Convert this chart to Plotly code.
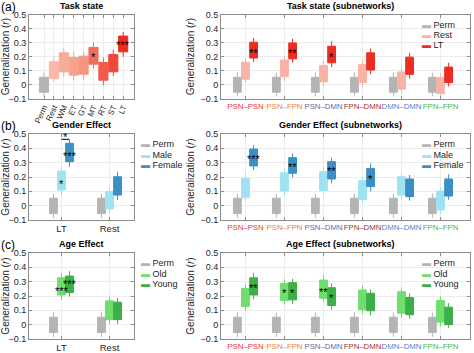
import plotly.graph_objects as go

# ---------------- data ----------------
Y_TICKS = [-0.1, 0, 0.1, 0.2, 0.3, 0.4, 0.5]

# (a) task states
task_states = ["Perm", "Rest", "WM", "ET", "GT", "MT", "RT", "ST", "LT"]
task_q1 = [-0.055, 0.043, 0.091, 0.067, 0.074, 0.146, 0.031, 0.091, 0.234]
task_med = [0.000, 0.100, 0.160, 0.130, 0.140, 0.215, 0.095, 0.153, 0.299]
task_q3 = [0.052, 0.163, 0.227, 0.194, 0.203, 0.266, 0.158, 0.215, 0.347]
task_lo = [-0.085, 0.020, 0.055, 0.031, 0.036, 0.115, -0.005, 0.060, 0.199]
task_hi = [0.085, 0.200, 0.260, 0.234, 0.234, 0.300, 0.194, 0.251, 0.376]
task_sig = ["", "", "", "", "", "*", "", "", "***"]

subnets = ["PSN–PSN", "PSN–FPN", "PSN–DMN", "FPN–DMN", "DMN–DMN", "FPN–FPN"]
group_cats = ["LT", "Rest"]

# permutation null (same in every panel)
perm_sub_q1 = [-0.055, -0.055, -0.055, -0.055, -0.055, -0.055]
perm_sub_med = [0.000, 0.000, 0.000, 0.000, 0.000, 0.000]
perm_sub_q3 = [0.052, 0.052, 0.052, 0.052, 0.052, 0.052]
perm_sub_lo = [-0.085, -0.085, -0.085, -0.085, -0.085, -0.085]
perm_sub_hi = [0.085, 0.085, 0.085, 0.085, 0.085, 0.085]
perm_grp_q1 = [-0.055, -0.055]
perm_grp_med = [0.000, 0.000]
perm_grp_q3 = [0.052, 0.052]
perm_grp_lo = [-0.085, -0.085]
perm_grp_hi = [0.085, 0.085]

# (a) subnetworks
rest_sub_q1 = [0.038, 0.057, 0.019, 0.014, -0.033, -0.064]
rest_sub_med = [0.099, 0.116, 0.078, 0.079, 0.028, -0.007]
rest_sub_q3 = [0.160, 0.175, 0.137, 0.144, 0.090, 0.050]
rest_sub_lo = [0.012, 0.026, -0.013, -0.015, -0.064, -0.090]
rest_sub_hi = [0.190, 0.208, 0.168, 0.175, 0.120, 0.080]
lt_sub_q1 = [0.190, 0.184, 0.156, 0.104, 0.073, 0.014]
lt_sub_med = [0.243, 0.243, 0.215, 0.165, 0.134, 0.070]
lt_sub_q3 = [0.303, 0.298, 0.274, 0.227, 0.196, 0.125]
lt_sub_lo = [0.160, 0.156, 0.125, 0.073, 0.043, -0.014]
lt_sub_hi = [0.333, 0.328, 0.310, 0.258, 0.227, 0.156]
lt_sub_sig = ["**", "**", "*", "", "", ""]

# (b) gender
male_q1 = [0.109, -0.023]
male_med = [0.172, 0.038]
male_q3 = [0.242, 0.098]
male_lo = [0.074, -0.053]
male_hi = [0.272, 0.128]
male_sig = ["*", ""]
female_q1 = [0.307, 0.074]
female_med = [0.365, 0.138]
female_q3 = [0.435, 0.202]
female_lo = [0.272, 0.040]
female_hi = [0.458, 0.237]
female_sig = ["***", ""]
gender_bracket_label = "*"
gender_bracket_y = 0.463

male_sub_q1 = [0.058, 0.102, 0.105, 0.044, 0.074, -0.030]
male_sub_med = [0.124, 0.166, 0.171, 0.109, 0.138, 0.036]
male_sub_q3 = [0.190, 0.230, 0.237, 0.174, 0.202, 0.102]
male_sub_lo = [0.028, 0.074, 0.074, 0.016, 0.044, -0.058]
male_sub_hi = [0.226, 0.260, 0.270, 0.202, 0.230, 0.130]
female_sub_q1 = [0.277, 0.226, 0.186, 0.133, 0.063, 0.067]
female_sub_med = [0.342, 0.284, 0.256, 0.202, 0.125, 0.127]
female_sub_q3 = [0.395, 0.335, 0.307, 0.260, 0.186, 0.186]
female_sub_lo = [0.249, 0.198, 0.156, 0.098, 0.035, 0.040]
female_sub_hi = [0.423, 0.365, 0.335, 0.295, 0.214, 0.219]
female_sub_sig = ["***", "**", "**", "*", "", ""]

# (c) age
old_q1 = [0.207, 0.035]
old_med = [0.253, 0.100]
old_q3 = [0.327, 0.166]
old_lo = [0.173, 0.005]
old_hi = [0.357, 0.196]
old_sig = ["***", ""]
young_q1 = [0.224, 0.035]
young_med = [0.300, 0.096]
young_q3 = [0.339, 0.157]
young_lo = [0.196, 0.005]
young_hi = [0.373, 0.187]
young_sig = ["***", ""]

old_sub_q1 = [0.127, 0.168, 0.184, 0.104, 0.080, 0.018]
old_sub_med = [0.190, 0.235, 0.247, 0.173, 0.155, 0.093]
old_sub_q3 = [0.253, 0.288, 0.311, 0.242, 0.230, 0.168]
old_sub_lo = [0.100, 0.140, 0.157, 0.074, 0.046, -0.012]
old_sub_hi = [0.281, 0.316, 0.346, 0.272, 0.258, 0.196]
old_sub_sig = ["", "*", "**", "", "", ""]
young_sub_q1 = [0.207, 0.173, 0.134, 0.097, 0.069, 0.000]
young_sub_med = [0.272, 0.235, 0.207, 0.158, 0.129, 0.061]
young_sub_q3 = [0.327, 0.293, 0.258, 0.219, 0.189, 0.122]
young_sub_lo = [0.177, 0.143, 0.104, 0.065, 0.041, -0.023]
young_sub_hi = [0.362, 0.320, 0.288, 0.247, 0.219, 0.150]
young_sub_sig = ["**", "*", "*", "", "", ""]

# ---------------- styles ----------------
task_colors = ["#b4b4b4", "#fbb8a8", "#f9ab9a", "#f7a08e", "#f69583",
               "#f26c5c", "#f15a4c", "#ef4739", "#ee2c22"]
C_PERM = "#b4b4b4"
C_REST = "#f9b3a6"
C_LT = "#ee2c22"
C_MALE = "#9ee3f1"
C_FEMALE = "#3b8fc5"
C_OLD = "#6fde6f"
C_YOUNG = "#3daf48"
subnet_colors = ["#e8383d", "#e8843a", "#7a5ca6", "#a33430", "#4f86c4", "#4cb84c"]

W, H = 474, 353
FONT = "Liberation Sans, Arial, Helvetica, sans-serif"
AXC = "#8c8c8c"
GRID = "#ececec"
TXT = "#262626"

COLS = [(29, 134), (221, 470)]
ROWS = [(14.7, 98.5), (134, 220), (253, 339)]

fig = go.Figure()


def ax_id(r, c):
    return 2 * r + c + 1


def add_boxes(r, c, xs, q1, med, q3, lo, hi, color, width, sig):
    n = ax_id(r, c)
    xa = "x" if n == 1 else f"x{n}"
    ya = "y" if n == 1 else f"y{n}"
    fig.add_trace(go.Box(
        x=xs, q1=q1, median=med, q3=q3, lowerfence=lo, upperfence=hi,
        xaxis=xa, yaxis=ya, fillcolor=color, width=width,
        line=dict(color=color, width=1), whiskerwidth=0,
        boxpoints=False, showlegend=False, hoverinfo="skip"))
    for x, y, s in zip(xs, med, sig):
        if s:
            fig.add_annotation(x=x, y=y, xref=xa, yref=ya, text=s,
                               showarrow=False, yshift=-2.5,
                               font=dict(family=FONT, size=11, color="black"))


# (a) left: one box per task state, each its own colour
for i, st in enumerate(task_states):
    add_boxes(0, 0, [i], [task_q1[i]], [task_med[i]], [task_q3[i]],
              [task_lo[i]], [task_hi[i]], task_colors[i], 0.92, [task_sig[i]])

# grouped panels
SUB_STEP, SUB_W = 0.208, 0.2
GRP_STEP, GRP_W = 0.167, 0.163
sub_idx = list(range(len(subnets)))
grp_idx = list(range(len(group_cats)))


def grouped(r, c, idx, step, series):
    for k, s in enumerate(series):
        off = (k - (len(series) - 1) / 2) * step
        xs = [i + off for i in idx]
        add_boxes(r, c, xs, *s)


no_sig6 = ["", "", "", "", "", ""]
no_sig2 = ["", ""]

grouped(0, 1, sub_idx, SUB_STEP, [
    (perm_sub_q1, perm_sub_med, perm_sub_q3, perm_sub_lo, perm_sub_hi, C_PERM, SUB_W, no_sig6),
    (rest_sub_q1, rest_sub_med, rest_sub_q3, rest_sub_lo, rest_sub_hi, C_REST, SUB_W, no_sig6),
    (lt_sub_q1, lt_sub_med, lt_sub_q3, lt_sub_lo, lt_sub_hi, C_LT, SUB_W, lt_sub_sig),
])
grouped(1, 0, grp_idx, GRP_STEP, [
    (perm_grp_q1, perm_grp_med, perm_grp_q3, perm_grp_lo, perm_grp_hi, C_PERM, GRP_W, no_sig2),
    (male_q1, male_med, male_q3, male_lo, male_hi, C_MALE, GRP_W, male_sig),
    (female_q1, female_med, female_q3, female_lo, female_hi, C_FEMALE, GRP_W, female_sig),
])
grouped(1, 1, sub_idx, SUB_STEP, [
    (perm_sub_q1, perm_sub_med, perm_sub_q3, perm_sub_lo, perm_sub_hi, C_PERM, SUB_W, no_sig6),
    (male_sub_q1, male_sub_med, male_sub_q3, male_sub_lo, male_sub_hi, C_MALE, SUB_W, no_sig6),
    (female_sub_q1, female_sub_med, female_sub_q3, female_sub_lo, female_sub_hi, C_FEMALE, SUB_W, female_sub_sig),
])
grouped(2, 0, grp_idx, GRP_STEP, [
    (perm_grp_q1, perm_grp_med, perm_grp_q3, perm_grp_lo, perm_grp_hi, C_PERM, GRP_W, no_sig2),
    (old_q1, old_med, old_q3, old_lo, old_hi, C_OLD, GRP_W, old_sig),
    (young_q1, young_med, young_q3, young_lo, young_hi, C_YOUNG, GRP_W, young_sig),
])
grouped(2, 1, sub_idx, SUB_STEP, [
    (perm_sub_q1, perm_sub_med, perm_sub_q3, perm_sub_lo, perm_sub_hi, C_PERM, SUB_W, no_sig6),
    (old_sub_q1, old_sub_med, old_sub_q3, old_sub_lo, old_sub_hi, C_OLD, SUB_W, old_sub_sig),
    (young_sub_q1, young_sub_med, young_sub_q3, young_sub_lo, young_sub_hi, C_YOUNG, SUB_W, young_sub_sig),
])

# significance bracket Male vs Female (LT) in gender panel
fig.add_shape(type="line", xref="x3", yref="y3",
              x0=0, x1=GRP_STEP, y0=gender_bracket_y, y1=gender_bracket_y,
              line=dict(color="black", width=1))
fig.add_annotation(x=GRP_STEP / 2, y=gender_bracket_y, xref="x3", yref="y3",
                   text=gender_bracket_label, showarrow=False, yshift=2,
                   font=dict(family=FONT, size=11, color="black"))

# ---------------- axes ----------------
sub_ticktext = [f'<span style="color:{col}">{t}</span>' for t, col in zip(subnets, subnet_colors)]
xranges = {
    (0, 0): [-1.515, 9.09],
    (1, 0): [-0.677, 1.51],
    (2, 0): [-0.677, 1.51],
}
layout = dict(
    width=W, height=H, margin=dict(l=0, r=0, t=0, b=0),
    paper_bgcolor="white", plot_bgcolor="white",
    font=dict(family=FONT, size=9, color=TXT),
    showlegend=False,
)
for r in range(3):
    for c in range(2):
        n = ax_id(r, c)
        xk = "xaxis" if n == 1 else f"xaxis{n}"
        yk = "yaxis" if n == 1 else f"yaxis{n}"
        x0, x1 = COLS[c]
        t0, t1 = ROWS[r]
        common = dict(showline=True, linecolor=AXC, linewidth=1, mirror="ticks",
                      ticks="inside", ticklen=3, tickcolor=AXC, showgrid=True,
                      gridcolor=GRID, gridwidth=1, zeroline=False, automargin=False)
        if c == 1:
            xa = dict(range=[-0.628, 5.756], tickvals=sub_idx, ticktext=sub_ticktext,
                      tickangle=0, tickfont=dict(size=7.8))
        elif r == 0:
            xa = dict(range=xranges[(r, c)], tickvals=list(range(len(task_states))),
                      ticktext=task_states, tickangle=-65, tickfont=dict(size=8))
        else:
            xa = dict(range=xranges[(r, c)], tickvals=grp_idx, ticktext=group_cats,
                      tickangle=0, tickfont=dict(size=9.5))
        layout[xk] = dict(domain=[x0 / W, x1 / W], anchor="y" if n == 1 else f"y{n}",
                          **xa, **common)
        layout[yk] = dict(domain=[1 - t1 / H, 1 - t0 / H], anchor="x" if n == 1 else f"x{n}",
                          range=[-0.1, 0.5], tickvals=Y_TICKS,
                          tickfont=dict(size=9),
                          title=dict(text="Generalization (<i>r</i>)", standoff=3,
                                     font=dict(size=10, color=TXT)),
                          **common)
fig.update_layout(**layout)

# ---------------- titles, panel letters, legends ----------------
titles = [["Task state", "Task state (subnetworks)"],
          ["Gender Effect", "Gender Effect (subnetworks)"],
          ["Age Effect", "Age Effect (subnetworks)"]]
letters = ["(a)", "(b)", "(c)"]
legends = [
    [("Perm", C_PERM), ("Rest", C_REST), ("LT", C_LT)],
    [("Perm", C_PERM), ("Male", C_MALE), ("Female", C_FEMALE)],
    [("Perm", C_PERM), ("Old", C_OLD), ("Young", C_YOUNG)],
]
for r in range(3):
    t0, t1 = ROWS[r]
    for c in range(2):
        n = ax_id(r, c)
        xd = "x domain" if n == 1 else f"x{n} domain"
        yd = "y domain" if n == 1 else f"y{n} domain"
        fig.add_annotation(x=0.5 if c == 0 else 0.48, y=1, xref=xd, yref=yd,
                           yanchor="bottom", yshift=2, showarrow=False,
                           text=f"<b>{titles[r][c]}</b>",
                           font=dict(family=FONT, size=9, color="black"))
        # legend entries
        lx = 1.048 if c == 0 else 0.80
        for k, (name, col) in enumerate(legends[r] if not (r == 0 and c == 0) else []):
            fig.add_annotation(x=lx, y=0.88 - 0.12 * k, xref=xd, yref=yd,
                               xanchor="left", yanchor="middle", showarrow=False,
                               text=f'<span style="color:{col}">▬</span> {name}',
                               font=dict(family=FONT, size=9, color=TXT))
    fig.add_annotation(x=-1 / W, y=1 - (t0 - 8) / H, xref="paper", yref="paper",
                       xanchor="left", yanchor="middle", showarrow=False,
                       text=letters[r], font=dict(family=FONT, size=12, color="black"))

fig.write_html("out.html")
